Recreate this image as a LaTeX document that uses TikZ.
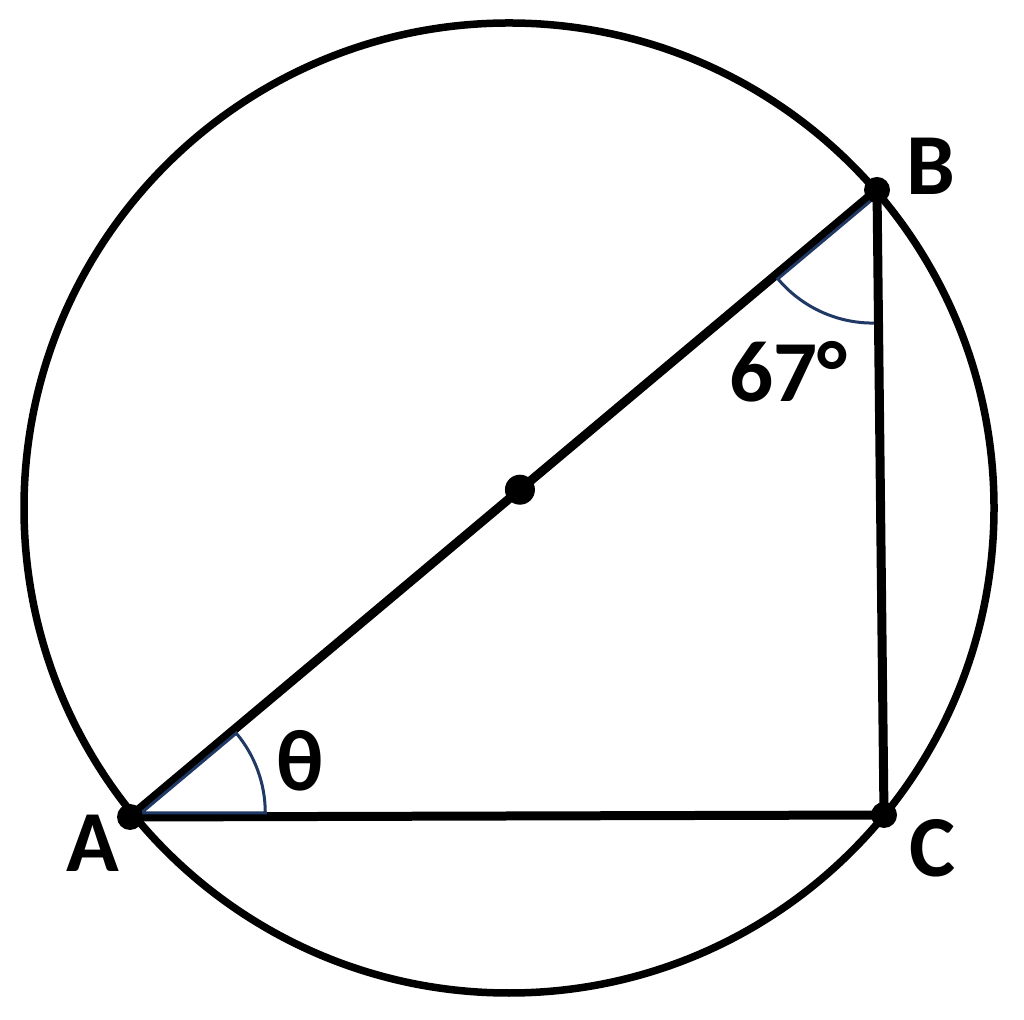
\documentclass[tikz,border=0pt]{standalone}
\usepackage{fontspec}
\setmainfont{Carlito}
\usetikzlibrary{calc}
\definecolor{anglenavy}{RGB}{31,56,100}
\begin{document}
\begin{tikzpicture}[x=1pt,y=1pt,
  edge/.style={line width=9pt,black},
  rim/.style={line width=7.5pt,black},
  anglemark/.style={line width=3pt,anglenavy,line join=miter},
  lbl/.style={anchor=base,inner sep=0pt,font=\fontsize{87}{100}\selectfont\bfseries}]
\fill[white] (0,0) rectangle (1024,1019);
\useasboundingbox (0,0) rectangle (1024,1019);
\coordinate (O) at (509,511);
\coordinate (A) at (130,202);
\coordinate (B) at (877,829);
\coordinate (C) at (884,204);
\coordinate (M) at ($(A)!0.522!(B)$);
% circle
\draw[rim] (O) circle[radius=485];
% triangle
\draw[edge] (A) -- (B);
\draw[edge] (B) -- (C);
\draw[edge] (C) -- (A);
% angle marks
\coordinate (Ap) at ($(A)+(20:12)$);
\draw[anglemark] (Ap) -- ++(0:124) arc[start angle=0,end angle=40,radius=124] -- cycle;
\coordinate (Bp) at ($(B)+(245.3:10)$);
\draw[anglemark] (Bp) -- ++(220:124) arc[start angle=220,end angle=270.6,radius=124];
% dots
\fill (A) circle[radius=13];
\fill (B) circle[radius=13];
\fill (C) circle[radius=13];
\fill (M) circle[radius=15];
% labels
\node[lbl] (lA) at (92.5,147) {A};
\node[lbl] (lB) at (930.5,824) {B};
\node[lbl] (lC) at (933,142) {C};
\node[lbl] (lang) at (788.5,617) {67°};
\node[lbl] (lth) at (300.5,228) {θ};
\end{tikzpicture}
\end{document}
